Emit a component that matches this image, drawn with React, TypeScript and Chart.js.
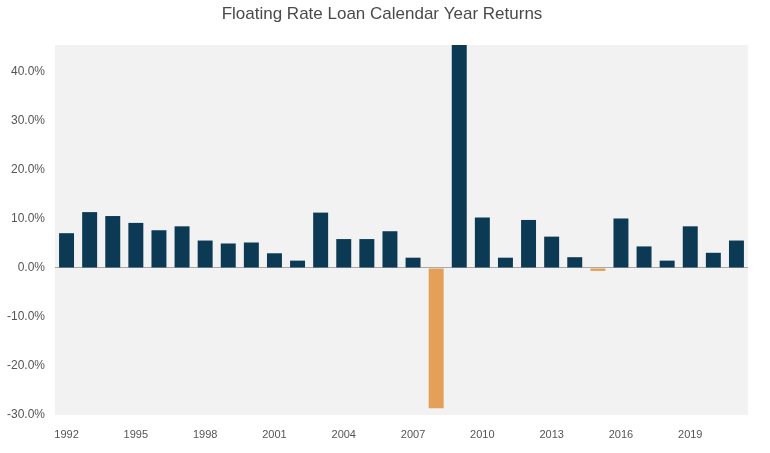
import React, { useEffect, useRef } from "react";
import { Chart, registerables } from "chart.js";

Chart.register(...registerables);

const years = [
  "1992", "1993", "1994", "1995", "1996", "1997", "1998", "1999", "2000", "2001",
  "2002", "2003", "2004", "2005", "2006", "2007", "2008", "2009", "2010", "2011",
  "2012", "2013", "2014", "2015", "2016", "2017", "2018", "2019", "2020", "2021",
];
const returnsPct = [
  7.1, 11.4, 10.6, 9.2, 7.7, 8.5, 5.6, 5.0, 5.2, 3.0,
  1.5, 11.3, 5.9, 5.9, 7.5, 2.1, -28.6, 51.6, 10.3, 2.1,
  9.8, 6.4, 2.2, -0.6, 10.1, 4.4, 1.5, 8.5, 3.1, 5.6,
];
const yTickValues = [-30, -20, -10, 0, 10, 20, 30, 40];
const titleText = "Floating Rate Loan Calendar Year Returns";

const POS = "#0c3a55";
const NEG = "#e49f58";

const plotBg = {
  id: "plotBg",
  beforeDraw(chart: any) {
    const { ctx, chartArea } = chart;
    if (!chartArea) return;
    ctx.save();
    ctx.fillStyle = "#f2f2f3";
    ctx.fillRect(chartArea.left, chartArea.top, chartArea.right - chartArea.left, chartArea.bottom - chartArea.top);
    ctx.restore();
  },
};

const titlePlugin = {
  id: "titleText",
  afterDraw(chart: any) {
    const { ctx } = chart;
    ctx.save();
    ctx.fillStyle = "#4a4a4a";
    ctx.font = "17px 'Liberation Sans'";
    ctx.textAlign = "center";
    ctx.textBaseline = "middle";
    ctx.fillText(titleText, 382, 14);
    ctx.restore();
  },
};

export default function App() {
  const ref = useRef<HTMLCanvasElement | null>(null);
  useEffect(() => {
    if (!ref.current) return;
    const chart = new Chart(ref.current, {
      type: "bar",
      data: {
        labels: years,
        datasets: [
          {
            data: returnsPct,
            backgroundColor: returnsPct.map((v) => (v < 0 ? NEG : POS)),
            categoryPercentage: 0.8,
            barPercentage: 0.81,
          },
        ],
      },
      plugins: [plotBg, titlePlugin],
      options: {
        animation: false,
        responsive: false,
        maintainAspectRatio: false,
        layout: { padding: { left: 0, right: 22, top: 45, bottom: 0 } },
        plugins: {
          legend: { display: false },
          tooltip: { enabled: false },
          title: { display: false },
        },
        scales: {
          x: {
            offset: true,
            grid: { display: false, drawTicks: false },
            border: { display: false },
            ticks: {
              autoSkip: false,
              maxRotation: 0,
              padding: 13,
              color: "#555",
              font: { family: "Liberation Sans", size: 11 },
              callback: (_v: any, i: number) => (i % 3 === 0 ? years[i] : ""),
            },
            afterFit: (s: any) => {
              s.height = 38;
            },
          },
          y: {
            min: -30,
            max: 45.5,
            grid: {
              drawTicks: false,
              color: (c: any) => (c.tick && c.tick.value === 0 ? "#a9a9a9" : "rgba(0,0,0,0)"),
              lineWidth: 1,
            },
            border: { display: false },
            afterBuildTicks: (s: any) => {
              s.ticks = yTickValues.map((v) => ({ value: v }));
            },
            ticks: {
              padding: 10,
              color: "#555",
              font: { family: "Liberation Sans", size: 12 },
              callback: (v: any) => Number(v).toFixed(1) + "%",
            },
            afterFit: (s: any) => {
              s.width = 55;
            },
          },
        },
      },
    });
    return () => chart.destroy();
  }, []);
  return (
    <div style={{ position: "fixed", left: 0, top: 0, width: 770, height: 453, background: "#fff" }}>
      <canvas ref={ref} width={770} height={453} style={{ width: 770, height: 453 }} />
    </div>
  );
}
